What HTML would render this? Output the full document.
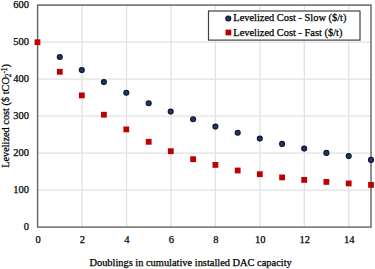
<!DOCTYPE html><html><head><meta charset="utf-8"><style>html,body{margin:0;padding:0;background:#fff;width:375px;height:269px;overflow:hidden}svg{display:block}text{font-family:"Liberation Serif",serif;fill:#000;stroke:#000;stroke-width:0.25}</style></head><body>
<svg width="375" height="269" viewBox="0 0 375 269">
<line x1="37.6" y1="190.10" x2="371.0" y2="190.10" stroke="#e2e2e2" stroke-width="1.3"/>
<line x1="37.6" y1="153.10" x2="371.0" y2="153.10" stroke="#e2e2e2" stroke-width="1.3"/>
<line x1="37.6" y1="116.10" x2="371.0" y2="116.10" stroke="#e2e2e2" stroke-width="1.3"/>
<line x1="37.6" y1="79.10" x2="371.0" y2="79.10" stroke="#e2e2e2" stroke-width="1.3"/>
<line x1="37.6" y1="42.10" x2="371.0" y2="42.10" stroke="#e2e2e2" stroke-width="1.3"/>
<line x1="37.6" y1="5.10" x2="371.0" y2="5.10" stroke="#e2e2e2" stroke-width="1.3"/>
<line x1="82.05" y1="5.1" x2="82.05" y2="227.1" stroke="#e2e2e2" stroke-width="1.3"/>
<line x1="126.51" y1="5.1" x2="126.51" y2="227.1" stroke="#e2e2e2" stroke-width="1.3"/>
<line x1="170.96" y1="5.1" x2="170.96" y2="227.1" stroke="#e2e2e2" stroke-width="1.3"/>
<line x1="215.41" y1="5.1" x2="215.41" y2="227.1" stroke="#e2e2e2" stroke-width="1.3"/>
<line x1="259.87" y1="5.1" x2="259.87" y2="227.1" stroke="#e2e2e2" stroke-width="1.3"/>
<line x1="304.32" y1="5.1" x2="304.32" y2="227.1" stroke="#e2e2e2" stroke-width="1.3"/>
<line x1="348.77" y1="5.1" x2="348.77" y2="227.1" stroke="#e2e2e2" stroke-width="1.3"/>
<rect x="37.6" y="5.1" width="333.4" height="222.0" fill="none" stroke="#636363" stroke-width="1.4"/>
<text x="29" y="230.00" font-size="10.5" text-anchor="end">0</text>
<text x="29" y="193.00" font-size="10.5" text-anchor="end">100</text>
<text x="29" y="156.00" font-size="10.5" text-anchor="end">200</text>
<text x="29" y="119.00" font-size="10.5" text-anchor="end">300</text>
<text x="29" y="82.00" font-size="10.5" text-anchor="end">400</text>
<text x="29" y="45.00" font-size="10.5" text-anchor="end">500</text>
<text x="29" y="8.00" font-size="10.5" text-anchor="end">600</text>
<text x="38.00" y="243" font-size="10.5" text-anchor="middle">0</text>
<text x="82.45" y="243" font-size="10.5" text-anchor="middle">2</text>
<text x="126.91" y="243" font-size="10.5" text-anchor="middle">4</text>
<text x="171.36" y="243" font-size="10.5" text-anchor="middle">6</text>
<text x="215.81" y="243" font-size="10.5" text-anchor="middle">8</text>
<text x="260.27" y="243" font-size="10.5" text-anchor="middle">10</text>
<text x="304.72" y="243" font-size="10.5" text-anchor="middle">12</text>
<text x="349.17" y="243" font-size="10.5" text-anchor="middle">14</text>
<circle cx="59.8" cy="57.00" r="2.5" fill="#24365f" stroke="#0a1438" stroke-width="1.1"/>
<circle cx="81.8" cy="70.10" r="2.5" fill="#24365f" stroke="#0a1438" stroke-width="1.1"/>
<circle cx="103.9" cy="82.10" r="2.5" fill="#24365f" stroke="#0a1438" stroke-width="1.1"/>
<circle cx="126.3" cy="92.80" r="2.5" fill="#24365f" stroke="#0a1438" stroke-width="1.1"/>
<circle cx="148.7" cy="103.30" r="2.5" fill="#24365f" stroke="#0a1438" stroke-width="1.1"/>
<circle cx="170.7" cy="111.60" r="2.5" fill="#24365f" stroke="#0a1438" stroke-width="1.1"/>
<circle cx="193.1" cy="119.30" r="2.5" fill="#24365f" stroke="#0a1438" stroke-width="1.1"/>
<circle cx="215.4" cy="126.60" r="2.5" fill="#24365f" stroke="#0a1438" stroke-width="1.1"/>
<circle cx="237.7" cy="132.70" r="2.5" fill="#24365f" stroke="#0a1438" stroke-width="1.1"/>
<circle cx="259.8" cy="138.60" r="2.5" fill="#24365f" stroke="#0a1438" stroke-width="1.1"/>
<circle cx="282.1" cy="143.90" r="2.5" fill="#24365f" stroke="#0a1438" stroke-width="1.1"/>
<circle cx="304.2" cy="148.60" r="2.5" fill="#24365f" stroke="#0a1438" stroke-width="1.1"/>
<circle cx="326.4" cy="152.90" r="2.5" fill="#24365f" stroke="#0a1438" stroke-width="1.1"/>
<circle cx="348.7" cy="156.10" r="2.5" fill="#24365f" stroke="#0a1438" stroke-width="1.1"/>
<circle cx="371" cy="159.90" r="2.5" fill="#24365f" stroke="#0a1438" stroke-width="1.1"/>
<rect x="34.60" y="39.30" width="5.8" height="5.8" fill="#c00000"/>
<rect x="56.90" y="68.90" width="5.8" height="5.8" fill="#c00000"/>
<rect x="78.90" y="92.50" width="5.8" height="5.8" fill="#c00000"/>
<rect x="101.00" y="111.80" width="5.8" height="5.8" fill="#c00000"/>
<rect x="123.40" y="126.50" width="5.8" height="5.8" fill="#c00000"/>
<rect x="145.80" y="138.90" width="5.8" height="5.8" fill="#c00000"/>
<rect x="167.90" y="148.30" width="5.8" height="5.8" fill="#c00000"/>
<rect x="190.20" y="156.30" width="5.8" height="5.8" fill="#c00000"/>
<rect x="212.50" y="162.00" width="5.8" height="5.8" fill="#c00000"/>
<rect x="234.80" y="167.60" width="5.8" height="5.8" fill="#c00000"/>
<rect x="256.90" y="171.30" width="5.8" height="5.8" fill="#c00000"/>
<rect x="279.20" y="174.50" width="5.8" height="5.8" fill="#c00000"/>
<rect x="301.30" y="177.00" width="5.8" height="5.8" fill="#c00000"/>
<rect x="323.50" y="179.00" width="5.8" height="5.8" fill="#c00000"/>
<rect x="345.80" y="180.50" width="5.8" height="5.8" fill="#c00000"/>
<rect x="368.10" y="182.00" width="5.8" height="5.8" fill="#c00000"/>
<rect x="208.5" y="11" width="151.5" height="29.1" fill="#fff" stroke="#404040" stroke-width="1.2"/>
<circle cx="228.3" cy="18.5" r="2.5" fill="#24365f" stroke="#0a1438" stroke-width="1.1"/>
<rect x="225.5" y="29.6" width="5.8" height="5.8" fill="#c00000"/>
<text x="233.3" y="21.3" font-size="10.4">Levelized Cost - Slow ($/t)</text>
<text x="233.3" y="35.6" font-size="10.4">Levelized Cost - Fast ($/t)</text>
<text x="190.6" y="265.8" font-size="10.4" text-anchor="middle">Doublings in cumulative installed DAC capacity</text>
<text transform="translate(9,115.9) rotate(-90)" font-size="10.3" text-anchor="middle">Levelized cost ($ tCO<tspan font-size="7.2" dy="1.9">2</tspan><tspan font-size="7.4" dy="-4.1">-1</tspan><tspan dy="2.2">)</tspan></text>
</svg></body></html>
